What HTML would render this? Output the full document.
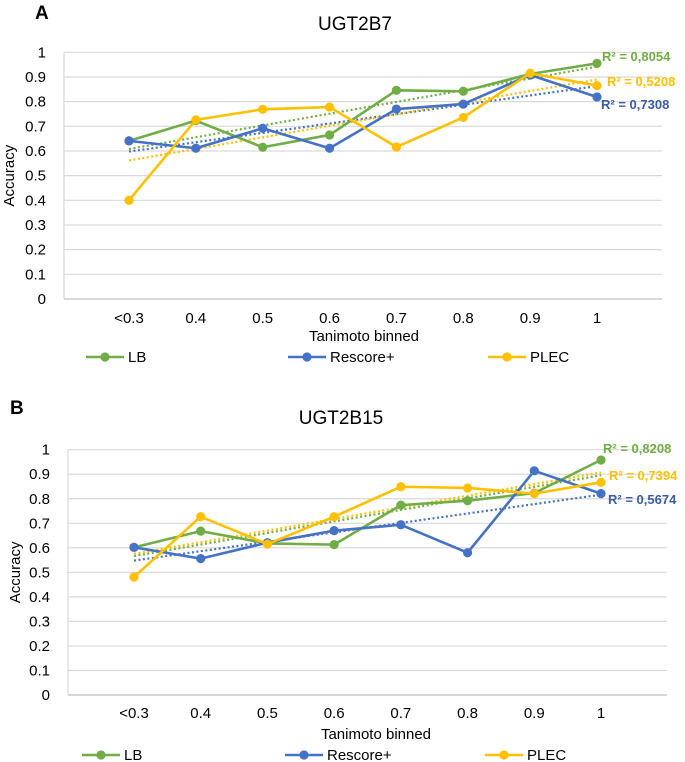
<!DOCTYPE html>
<html><head><meta charset="utf-8"><style>
body{margin:0;background:#fff;}
svg{display:block;font-family:"Liberation Sans",sans-serif;}
</style></head><body>
<svg id="fig" width="685" height="762" viewBox="0 0 685 762"></svg>
<script>
const categories = ["<0.3","0.4","0.5","0.6","0.7","0.8","0.9","1"];
const yTicks = [0,0.1,0.2,0.3,0.4,0.5,0.6,0.7,0.8,0.9,1];
const seriesNames = ["LB","Rescore+","PLEC"];
const aLB = [0.641,0.723,0.615,0.665,0.846,0.842,0.912,0.955];
const aRescore = [0.641,0.611,0.692,0.611,0.770,0.790,0.908,0.819];
const aPLEC = [0.40,0.726,0.769,0.778,0.616,0.736,0.915,0.865];
const aR2 = ["R² = 0,8054","R² = 0,7308","R² = 0,5208"];
const bLB = [0.602,0.668,0.618,0.613,0.774,0.792,0.823,0.958];
const bRescore = [0.602,0.556,0.621,0.670,0.694,0.580,0.914,0.821];
const bPLEC = [0.481,0.727,0.615,0.727,0.849,0.844,0.821,0.867];
const bR2 = ["R² = 0,8208","R² = 0,5674","R² = 0,7394"];

const NS="http://www.w3.org/2000/svg";
const svg=document.getElementById('fig');
const colors=["#70ad47","#4472c4","#ffc000"];
const r2colors=["#70ad47","#3a5ba8","#ffc000"];
function mk(tag,attrs,parent){const e=document.createElementNS(NS,tag);for(const k in attrs)e.setAttribute(k,attrs[k]);(parent||svg).appendChild(e);return e;}
function txt(s,attrs,parent){const e=mk('text',attrs,parent);e.textContent=s;return e;}

function chart(cfg){
  const g=mk('g',{});
  
  
  const xs=i=>cfg.x0+i*(cfg.x1-cfg.x0)/(categories.length-1);
  const ys=v=>cfg.y0+(cfg.y1-cfg.y0)*v;
  let t=txt(cfg.letter,{x:cfg.lx,y:cfg.ly,'font-size':19,'font-weight':'bold',fill:'#000'},g);
  
  t=txt(cfg.title,{x:cfg.tx,y:cfg.ty,'font-size':19,'text-anchor':'middle',fill:'#000'},g);
  
  yTicks.forEach(v=>{
    const l=mk('line',{x1:cfg.gl,x2:cfg.gr,y1:ys(v),y2:ys(v),stroke:v===0?'#bfbfbf':'#d9d9d9','stroke-width':1.2},g);
    
    const tl=txt(String(v),{x:cfg.gl-18,y:ys(v)+5,'font-size':15,'text-anchor':'end',fill:'#000'},g);
    
  });
  mk('line',{x1:cfg.gl,x2:cfg.gl,y1:ys(1),y2:ys(0),stroke:'#d9d9d9','stroke-width':1.2},g);
  categories.forEach((c,i)=>{
    const tl=txt(c,{x:xs(i),y:cfg.xly,'font-size':15,'text-anchor':'middle',fill:'#000'},g);
    
  });
  t=txt('Tanimoto binned',{x:cfg.xtx,y:cfg.xty,'font-size':15,'text-anchor':'middle',fill:'#000'},g);
  
  t=txt('Accuracy',{x:0,y:0,'font-size':15,'text-anchor':'middle',fill:'#000',transform:`translate(${cfg.ytx},${ys(0.5)}) rotate(-90)`},g);
  
  cfg.series.forEach((s,k)=>{
    const n=s.length;let sx=0,sy=0,sxy=0,sxx=0;
    s.forEach((v,i)=>{sx+=i;sy+=v;sxy+=i*v;sxx+=i*i;});
    const b=(n*sxy-sx*sy)/(n*sxx-sx*sx),a=(sy-b*sx)/n;
    const l=mk('line',{x1:xs(0),x2:xs(n-1),y1:ys(a),y2:ys(a+b*(n-1)),stroke:colors[k],'stroke-width':2.2,'stroke-dasharray':'2 2.5'},g);
    
    
  });
  cfg.series.forEach((s,k)=>{
    const p=mk('polyline',{points:s.map((v,i)=>xs(i)+','+ys(v)).join(' '),fill:'none',stroke:colors[k],'stroke-width':2.6,'stroke-linejoin':'round'},g);
    
    
    s.forEach((v,i)=>{
      const c=mk('circle',{cx:xs(i),cy:ys(v),r:4.6,fill:colors[k]},g);
      
      
    });
  });
  cfg.r2pos.forEach((p,k)=>{
    const tl=txt(cfg.r2[k],{x:p[0],y:p[1],'font-size':13,'font-weight':'bold',fill:r2colors[k]},g);
    
  });
  cfg.legx.forEach((lx,k)=>{
    const lg=mk('g',{},g);
    
    
    mk('line',{x1:lx,x2:lx+38,y1:cfg.legy,y2:cfg.legy,stroke:colors[k],'stroke-width':2.6},lg);
    mk('circle',{cx:lx+19,cy:cfg.legy,r:4.6,fill:colors[k]},lg);
    txt(seriesNames[k],{x:lx+42,y:cfg.legy+5,'font-size':15,fill:'#000'},lg);
  });
}
chart({name:'chart-ugt2b7',letter:'A',lx:35,ly:19,title:'UGT2B7',tx:355,ty:30,
  x0:129,x1:597,gl:64,gr:662,y0:299,y1:52.3,xly:323,xtx:364,xty:341,ytx:14,
  series:[aLB,aRescore,aPLEC],r2:aR2,r2pos:[[602,61],[601,109],[607,86]],
  legx:[86,288,488],legy:357});
chart({name:'chart-ugt2b15',letter:'B',lx:10,ly:414,title:'UGT2B15',tx:341,ty:424,
  x0:134,x1:601,gl:68,gr:667,y0:695,y1:449.7,xly:718,xtx:376,xty:739,ytx:20,
  series:[bLB,bRescore,bPLEC],r2:bR2,r2pos:[[603,453],[608,504],[609,480]],
  legx:[82,285,485],legy:755});
</script>
</body></html>
